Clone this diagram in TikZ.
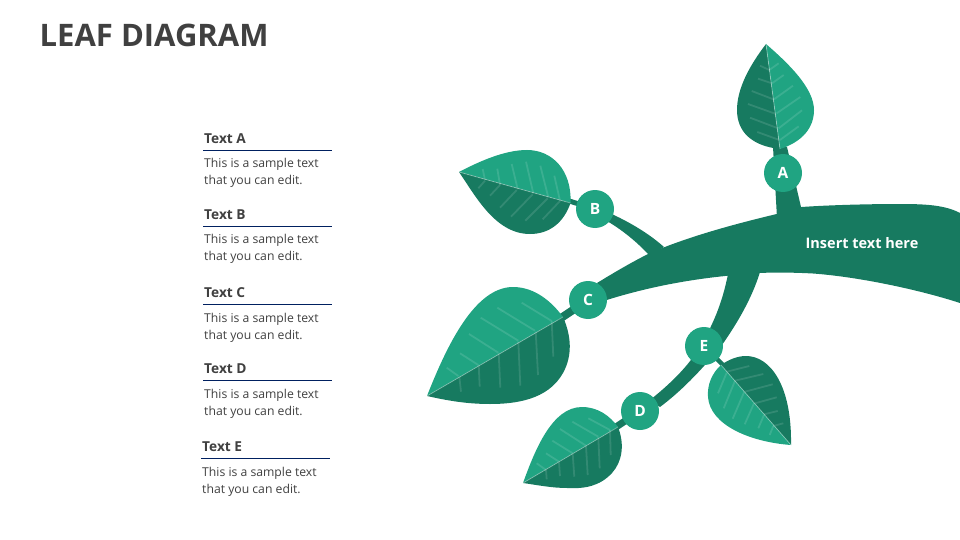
\documentclass[tikz,border=0pt]{standalone}
\usepackage{fontspec}
\setmainfont{Open Sans}
\definecolor{leaflight}{HTML}{20A482}
\definecolor{leafdark}{HTML}{177A60}
\definecolor{inktext}{HTML}{404040}
\definecolor{rulenavy}{HTML}{002060}
\tikzset{
	vein/.style={white,opacity=.12,line width=1.8pt},
	midrib/.style={white,opacity=.35,line width=.8pt},
	stemline/.style={leafdark,line width=#1},
	badge/.style={circle,fill=leaflight,text=white,minimum size=38pt,inner sep=0pt,font=\fontsize{15.5}{15.5}\selectfont\bfseries},
	head/.style={anchor=west,inner sep=0pt,text=inktext,font=\fontsize{13.7}{13.7}\selectfont\bfseries},
	body/.style={anchor=west,inner sep=0pt,text=inktext,font=\fontsize{12.2}{12.2}\selectfont},
}
\begin{document}
\begin{tikzpicture}[x=1pt,y=-1pt,line join=round]
	\useasboundingbox (0,0) rectangle (960,540);
	\node[anchor=west,inner sep=0pt,text=inktext,font=\fontsize{31}{31}\selectfont\bfseries] (title) at (39.5,35) {LEAF DIAGRAM};
	% text column
	\foreach \nm/\lab/\xa/\ya/\yb/\yc/\yd in {A/Text A/204/139/150.3/164/181,B/Text B/204/215/226.3/240/257,C/Text C/204/293/304.3/319/336,D/Text D/204/369/380/395/412,E/Text E/202/447/458.3/473/490}{
		\node[head] (head\nm) at (\xa,\ya) {\lab};
		\node[body] (lineone\nm) at (\xa,\yc) {This is a sample text};
		\node[body] (linetwo\nm) at (\xa,\yd) {that you can edit.};
		\draw[rulenavy,line width=1pt] (\xa-.8,\yb)--(\xa+127.5,\yb);
	}
	% stems
	\fill[leafdark] (773,147)--(787,147)--(801.7,210)--(777,218)--cycle;
	\fill[leafdark] (600,209) .. controls (620,217) and (645,230) .. (664,247)--(650,256) .. controls (635,240) and (620,228) .. (600,217)--cycle;
	\draw[stemline=5pt] (566,200)--(595,209);
	\draw[stemline=8pt] (558,320)--(588,300);
	\draw[stemline=7pt] (610,431)--(640,411);
	\draw[stemline=4.5pt] (704,346)--(724,366);
	\fill[leafdark] (728,274) .. controls (722,305) and (712,325) .. (704,340) .. controls (692,362) and (675,380) .. (650,400)--(660,407) .. controls (680,392) and (700,372) .. (722,345) .. controls (738,322) and (752,298) .. (760,272)--cycle;
	% main branch
	\fill[leafdark] (597,283) .. controls (615,272) and (632,262) .. (650,253) .. controls (690,236) and (735,224) .. (776.7,214)--(801.7,207) .. controls (830,205) and (870,204) .. (900,204) .. controls (925,204) and (945,205) .. (960,213)--(960,303) .. controls (920,290) and (860,277) .. (813,273.5) .. controls (785,272) and (755,272) .. (728,275.7) .. controls (685,280) and (645,288) .. (606.7,300)--cycle;
	\node[text=white,inner sep=0pt,font=\fontsize{14.5}{14.5}\selectfont\bfseries] (branchtext) at (862,243) {Insert text here};
	% leaf A
	\fill[leafdark] (766,44) .. controls (750,65) and (737,88) .. (737,110) .. controls (737,132) and (752,146) .. (780,149)--cycle;
	\fill[leaflight] (766,44) .. controls (788,63) and (814,88) .. (814,110) .. controls (814,128) and (802,142) .. (780,149)--cycle;
	\draw[midrib] (766,44)--(780,149);
	\foreach \xa/\ya/\xb/\yb in {769.3/70/760/65.7,772/83.3/758/78.7,773.3/99.3/751.7/91,776/114/748/104,778/128.3/750/117.7,779.3/140/757.3/132,769.3/70/778.7/63.3,772/83.3/783.7/75,774/99.3/793/85.7,776.7/113.3/800.3/97,778.7/128.3/802/110.3,780/140/798.7/126.3}
	\draw[vein] (\xa,\ya)--(\xb,\yb);
	% leaf B
	\fill[leaflight] (459,172) .. controls (480,161) and (505,150) .. (527,150) .. controls (552,150) and (572,170) .. (570.5,203)--cycle;
	\fill[leafdark] (459,172) .. controls (475,195) and (495,234) .. (530,234) .. controls (550,234) and (564,222) .. (570.5,203)--cycle;
	\draw[midrib] (459,172)--(570.5,203);
	\foreach \xa/\ya/\xb/\yb in {485/180/482.7/169,500/185/497.3/168.7,517.7/189.3/511.7/164,533.3/193.3/526/161.7,548.3/197.3/540.3/165.7,560/200.7/554.3/175.7,485/180.7/478.3/188.3,500/185/490/195.7,516.7/190/500/207.7,532.7/194.3/511/216.7,547.7/198.3/525.3/220.7,560/201/542.7/219.3}
	\draw[vein] (\xa,\ya)--(\xb,\yb);
	% leaf C
	\fill[leaflight] (427,396) .. controls (447,345) and (475,287) .. (513,287) .. controls (535,287) and (552,302) .. (563,317)--cycle;
	\fill[leafdark] (563,317) .. controls (571,335) and (573,355) .. (563,373) .. controls (548,400) and (515,404) .. (490,404) .. controls (465,404) and (445,400) .. (427,396)--cycle;
	\draw[midrib] (427,396)--(563,317);
	\foreach \xa/\ya/\xb/\yb in {551.7/321/521.7/302.7,535/330.7/497.3/307.7,518.3/340.7/480.7/317.7,498.3/352.7/469/334,478.3/365/460/353.3,458.3/376/446.7/367.7,551.7/321/553.3/356.7,535.7/331.7/538/375,518.3/341.7/520.3/385.7,498.7/353.3/500.3/387.7,478.7/365/479.7/386.7,459.3/376.7/461/391.7}
	\draw[vein] (\xa,\ya)--(\xb,\yb);
	% leaf D
	\fill[leaflight] (523,483) .. controls (535,450) and (552,407) .. (582,407) .. controls (598,407) and (610,416) .. (618,427)--cycle;
	\fill[leafdark] (618,427) .. controls (625,445) and (622,462) .. (612,473) .. controls (600,486) and (585,489) .. (567,488) .. controls (552,488) and (537,485) .. (523,483)--cycle;
	\draw[midrib] (523,483)--(618,427);
	\foreach \xa/\ya/\xb/\yb in {610/430/588.3/418.3,598.3/436.7/572.3/421.7,586/445.7/560/429,572.7/453.3/552.3/440.7,559/461.7/546/453.3,546/470/536.7/463.3,610/430/610.7/455,598.3/437.3/599.7/468.3,586/446/587.7/475,572.7/454/574.3/476.7,559/462.3/560/476,546/470/546.7/479.3}
	\draw[vein] (\xa,\ya)--(\xb,\yb);
	% leaf E
	\fill[leafdark] (721,365) .. controls (728,360) and (737,356) .. (746,356) .. controls (770,356) and (792,385) .. (791,445)--cycle;
	\fill[leaflight] (721,365) .. controls (712,373) and (707,385) .. (708,397) .. controls (710,425) and (750,442) .. (791,445)--cycle;
	\draw[midrib] (721,365)--(791,445);
	\foreach \xa/\ya/\xb/\yb in {726.7/371.7/749.3/366,735/380.7/763.3/374,745/391.7/772.7/384.3,755/403.3/776.7/397.3,764/414.3/777.7/411,773.3/426/783.3/423.3,726.7/372.7/718/393.3,735/380.7/723.7/408.3,744.3/391.7/732.7/418.7,754/403.3/744.7/424.3,764/415/758.3/428.3,773.3/426/769.7/435}
	\draw[vein] (\xa,\ya)--(\xb,\yb);
	% badges
	\foreach \nm/\xa/\ya in {A/783/173,B/595/209,C/588/300,D/640/411,E/704/346}
	\node[badge] (badge\nm) at (\xa,\ya) {\nm};
\end{tikzpicture}
\end{document}
